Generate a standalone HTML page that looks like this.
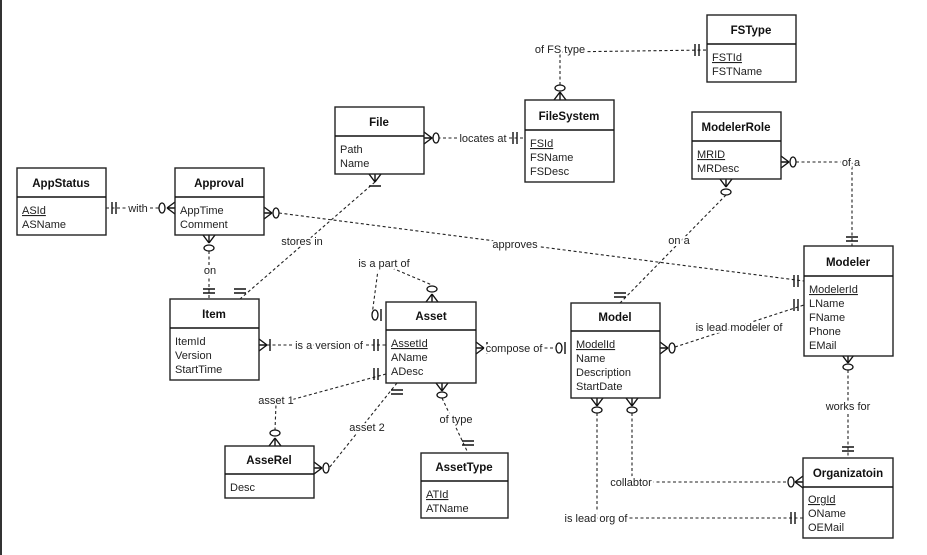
<!DOCTYPE html>
<html><head><meta charset="utf-8"><style>
html,body{margin:0;padding:0;background:#fff;width:927px;height:555px;overflow:hidden}
svg{display:block;font-family:"Liberation Sans",Arial,sans-serif}
.b{fill:#fff;stroke:#222;stroke-width:1.4}
.t{font-weight:bold;font-size:11.5px;text-anchor:middle;fill:#111}
.a{font-size:11px;fill:#222}
.d{stroke:#222;stroke-width:1.1;stroke-dasharray:3,2.5;fill:none}
.s{stroke:#111;stroke-width:1.4;fill:none}
.o{stroke:#111;stroke-width:1.3;fill:#fff}
.l{font-size:11px;fill:#222;stroke:#fff;stroke-width:4;paint-order:stroke}
</style></head><body>
<svg width="927" height="555" viewBox="0 0 927 555">
<rect x="0" y="0" width="2" height="555" fill="#333"/>
<g class="d">
<path d="M106 208 L159 208"/>
<path d="M209 251 L209 299"/>
<path d="M375 182 L240 299"/>
<path d="M279 213 L804 281"/>
<path d="M432 138 L525 138"/>
<path d="M560 85 L560 52 L707 50"/>
<path d="M796 162 L852 162 L852 247"/>
<path d="M726 195 L620 303"/>
<path d="M267 345 L386 345"/>
<path d="M372 315 L378 270 M392 268 L432 285"/>
<path d="M484 348 L556 348"/>
<path d="M675 347 L804 305"/>
<path d="M848 370 L848 458"/>
<path d="M386 374 L276 404 L275 430"/>
<path d="M397 383 L329 468"/>
<path d="M442 398 L468 453"/>
<path d="M632 413 L632 482 L788 482"/>
<path d="M597 413 L597 518 L803 518"/>
</g>
<g class="s">
<path d="M112 202v12M116 202v12"/>
<path d="M167 208L175 202M167 208L175 208M167 208L175 214"/>
<path d="M209 243L203 235M209 243L209 235M209 243L215 235"/>
<path d="M203 293h12M203 289h12M234 293h12M234 289h12"/>
<path d="M375 182L369 174M375 182L375 174M375 182L381 174M369 186h12"/>
<path d="M272 213L264 207M272 213L264 219M272 213H264"/>
<path d="M794 275v12M798 275v12"/>
<path d="M432 138L424 132M432 138L424 144M432 138H424"/>
<path d="M513 132v12M517 132v12"/>
<path d="M695 44v12M699 44v12"/>
<path d="M560 92L554 100M560 92L566 100M560 92V100"/>
<path d="M789 162L781 156M789 162L781 168M789 162H781"/>
<path d="M846 237h12M846 241h12"/>
<path d="M726 187L720 179M726 187L732 179M726 187V179"/>
<path d="M614 293h12M614 297h12"/>
<path d="M267 345L259 339M267 345L259 351M267 345H259M270 339v12"/>
<path d="M374 339v12M378 339v12"/>
<path d="M381 309v12"/>
<path d="M432 294L426 302M432 294L438 302M432 294V302"/>
<path d="M484 348L476 342M484 348L476 354M484 348H476M487 342v12"/>
<path d="M565 342v12"/>
<path d="M668 348L660 342M668 348L660 354M668 348H660"/>
<path d="M794 299v12M798 299v12"/>
<path d="M848 363L842 355M848 363L854 355M848 363V355"/>
<path d="M842 447h12M842 451h12"/>
<path d="M374 368v12M378 368v12"/>
<path d="M275 438L269 446M275 438L281 446M275 438V446"/>
<path d="M391 390h12M391 394h12"/>
<path d="M322 468L314 462M322 468L314 474M322 468H314"/>
<path d="M442 391L436 383M442 391L448 383M442 391V383"/>
<path d="M462 441h12M462 445h12"/>
<path d="M632 406L626 398M632 406L638 398M632 406V398"/>
<path d="M597 406L591 398M597 406L603 398M597 406V398"/>
<path d="M795 482L803 476M795 482L803 488M795 482H803"/>
<path d="M791 512v12M795 512v12"/>
</g>
<g class="o">
<ellipse cx="162" cy="208" rx="3" ry="5"/>
<ellipse cx="209" cy="248" rx="5" ry="3"/>
<ellipse cx="276" cy="213" rx="3" ry="5"/>
<ellipse cx="436" cy="138" rx="3" ry="5"/>
<ellipse cx="560" cy="88" rx="5" ry="3"/>
<ellipse cx="793" cy="162" rx="3" ry="5"/>
<ellipse cx="726" cy="192" rx="5" ry="3"/>
<ellipse cx="375" cy="315" rx="3" ry="5"/>
<ellipse cx="432" cy="289" rx="5" ry="3"/>
<ellipse cx="559" cy="348" rx="3" ry="5"/>
<ellipse cx="672" cy="348" rx="3" ry="5"/>
<ellipse cx="848" cy="367" rx="5" ry="3"/>
<ellipse cx="275" cy="433" rx="5" ry="3"/>
<ellipse cx="326" cy="468" rx="3" ry="5"/>
<ellipse cx="442" cy="395" rx="5" ry="3"/>
<ellipse cx="632" cy="410" rx="5" ry="3"/>
<ellipse cx="597" cy="410" rx="5" ry="3"/>
<ellipse cx="791" cy="482" rx="3" ry="5"/>
</g>
<text class="l" x="138" y="212" text-anchor="middle">with</text>
<text class="l" x="210" y="274" text-anchor="middle">on</text>
<text class="l" x="302" y="245" text-anchor="middle">stores in</text>
<text class="l" x="515" y="248" text-anchor="middle">approves</text>
<text class="l" x="483" y="142" text-anchor="middle">locates at</text>
<text class="l" x="560" y="53" text-anchor="middle">of FS type</text>
<text class="l" x="851" y="166" text-anchor="middle">of a</text>
<text class="l" x="679" y="244" text-anchor="middle">on a</text>
<text class="l" x="329" y="349" text-anchor="middle">is a version of</text>
<text class="l" x="384" y="267" text-anchor="middle">is a part of</text>
<text class="l" x="514" y="352" text-anchor="middle">compose of</text>
<text class="l" x="739" y="331" text-anchor="middle">is lead modeler of</text>
<text class="l" x="848" y="410" text-anchor="middle">works for</text>
<text class="l" x="276" y="404" text-anchor="middle">asset 1</text>
<text class="l" x="367" y="431" text-anchor="middle">asset 2</text>
<text class="l" x="456" y="423" text-anchor="middle">of type</text>
<text class="l" x="631" y="486" text-anchor="middle">collabtor</text>
<text class="l" x="596" y="522" text-anchor="middle">is lead org of</text>
<g>
<rect class="b" x="17" y="168" width="89" height="67"/><line class="s" x1="17" y1="197" x2="106" y2="197"/>
<text class="t" x="61" y="187">AppStatus</text>
<text class="a" x="22" y="214" text-decoration="underline">ASId</text><text class="a" x="22" y="228">ASName</text>

<rect class="b" x="175" y="168" width="89" height="67"/><line class="s" x1="175" y1="197" x2="264" y2="197"/>
<text class="t" x="219" y="187">Approval</text>
<text class="a" x="180" y="214">AppTime</text><text class="a" x="180" y="228">Comment</text>

<rect class="b" x="335" y="107" width="89" height="67"/><line class="s" x1="335" y1="136" x2="424" y2="136"/>
<text class="t" x="379" y="126">File</text>
<text class="a" x="340" y="153">Path</text><text class="a" x="340" y="167">Name</text>

<rect class="b" x="525" y="100" width="89" height="82"/><line class="s" x1="525" y1="130" x2="614" y2="130"/>
<text class="t" x="569" y="120">FileSystem</text>
<text class="a" x="530" y="147" text-decoration="underline">FSId</text><text class="a" x="530" y="161">FSName</text><text class="a" x="530" y="175">FSDesc</text>

<rect class="b" x="707" y="15" width="89" height="67"/><line class="s" x1="707" y1="44" x2="796" y2="44"/>
<text class="t" x="751" y="34">FSType</text>
<text class="a" x="712" y="61" text-decoration="underline">FSTId</text><text class="a" x="712" y="75">FSTName</text>

<rect class="b" x="692" y="112" width="89" height="67"/><line class="s" x1="692" y1="141" x2="781" y2="141"/>
<text class="t" x="736" y="131">ModelerRole</text>
<text class="a" x="697" y="158" text-decoration="underline">MRID</text><text class="a" x="697" y="172">MRDesc</text>

<rect class="b" x="804" y="246" width="89" height="110"/><line class="s" x1="804" y1="276" x2="893" y2="276"/>
<text class="t" x="848" y="266">Modeler</text>
<text class="a" x="809" y="293" text-decoration="underline">ModelerId</text><text class="a" x="809" y="307">LName</text><text class="a" x="809" y="321">FName</text><text class="a" x="809" y="335">Phone</text><text class="a" x="809" y="349">EMail</text>

<rect class="b" x="170" y="299" width="89" height="81"/><line class="s" x1="170" y1="328" x2="259" y2="328"/>
<text class="t" x="214" y="318">Item</text>
<text class="a" x="175" y="345">ItemId</text><text class="a" x="175" y="359">Version</text><text class="a" x="175" y="373">StartTime</text>

<rect class="b" x="386" y="302" width="90" height="81"/><line class="s" x1="386" y1="330" x2="476" y2="330"/>
<text class="t" x="431" y="320">Asset</text>
<text class="a" x="391" y="347" text-decoration="underline">AssetId</text><text class="a" x="391" y="361">AName</text><text class="a" x="391" y="375">ADesc</text>

<rect class="b" x="571" y="303" width="89" height="95"/><line class="s" x1="571" y1="331" x2="660" y2="331"/>
<text class="t" x="615" y="321">Model</text>
<text class="a" x="576" y="348" text-decoration="underline">ModelId</text><text class="a" x="576" y="362">Name</text><text class="a" x="576" y="376">Description</text><text class="a" x="576" y="390">StartDate</text>

<rect class="b" x="225" y="446" width="89" height="52"/><line class="s" x1="225" y1="474" x2="314" y2="474"/>
<text class="t" x="269" y="464">AsseRel</text>
<text class="a" x="230" y="491">Desc</text>

<rect class="b" x="421" y="453" width="87" height="65"/><line class="s" x1="421" y1="481" x2="508" y2="481"/>
<text class="t" x="464" y="471">AssetType</text>
<text class="a" x="426" y="498" text-decoration="underline">ATId</text><text class="a" x="426" y="512">ATName</text>

<rect class="b" x="803" y="458" width="90" height="80"/><line class="s" x1="803" y1="487" x2="893" y2="487"/>
<text class="t" x="848" y="477">Organizatoin</text>
<text class="a" x="808" y="503" text-decoration="underline">OrgId</text><text class="a" x="808" y="517">OName</text><text class="a" x="808" y="531">OEMail</text>
</g>
</svg>
</body></html>
